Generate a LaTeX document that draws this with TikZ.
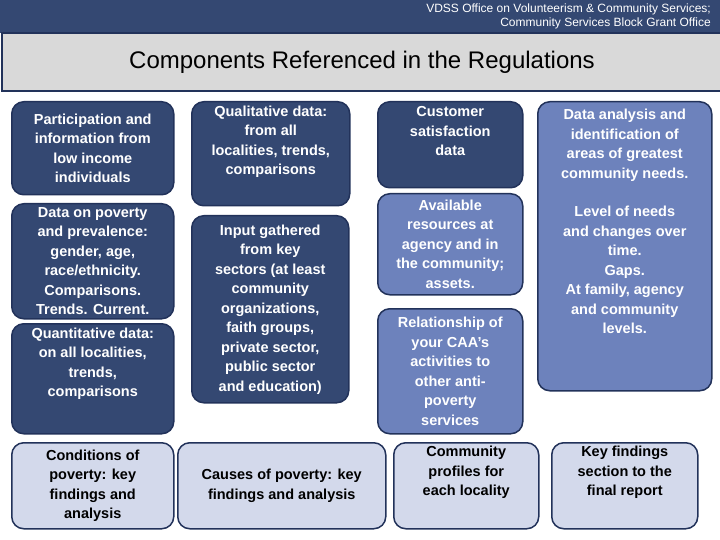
\documentclass[tikz,border=0pt]{standalone}
\usepackage{fontspec}
\setmainfont{Liberation Sans}
\definecolor{dk}{HTML}{344872}
\definecolor{md}{HTML}{6D82BC}
\definecolor{lt}{HTML}{D3D9EB}
\definecolor{bd}{HTML}{22325A}
\begin{document}
\begin{tikzpicture}[x=1pt,y=-1pt,
 bx/.style={draw=bd,line width=1.5pt,rounded corners=12pt,align=center,font=\fontsize{14.5}{19.5}\selectfont\bfseries,inner sep=2pt},
 dkb/.style={bx,fill=dk,text=white},
 mdb/.style={bx,fill=md,text=white},
 ltb/.style={bx,fill=lt,text=black}]
\useasboundingbox (0,0) rectangle (720,540);
\fill[dk] (0,0) rectangle (720,33);
\node[anchor=north east,align=right,text=white,font=\fontsize{12}{14}\selectfont,inner sep=0pt] (hd) at (711,4) {VDSS Office on Volunteerism \& Community Services;\\Community Services Block Grant Office};
\node[draw=bd,line width=2pt,fill=black!15,minimum width=720pt,minimum height=58pt,font=\fontsize{24}{28}\selectfont,anchor=north west] (tt) at (1,32) {Components Referenced in the Regulations};
\newcommand\bxx[7]{\node[#1,minimum width=#4pt-#2pt,minimum height=#5pt-#3pt,anchor=north west] (#6) at (#2,#3) {#7};}
\bxx{dkb}{11}{101}{173}{194}{a1}{Participation and\\information from\\low income\\individuals}
\bxx{dkb}{11}{203}{173}{318}{a2}{Data on poverty\\and prevalence:\\gender, age,\\race/ethnicity.\\Comparisons.\\Trends. Current.}
\bxx{dkb}{11}{323}{173}{433}{a3}{Quantitative data:\\on all localities,\\trends,\\comparisons\\[14pt]}
\bxx{ltb}{11}{442}{173}{528}{a4}{Conditions of\\poverty: key\\findings and\\analysis}
\bxx{dkb}{191}{101}{349}{205}{b1}{Qualitative data:\\from all\\localities, trends,\\comparisons\\[8pt]}
\bxx{dkb}{191}{215}{348}{402}{b2}{Input gathered\\from key\\sectors (at least\\community\\organizations,\\faith groups,\\private sector,\\public sector\\and education)}
\bxx{ltb}{177}{442}{385}{528}{b3}{Causes of poverty: key\\findings and analysis}
\bxx{dkb}{377}{101}{522}{187}{c1}{Customer\\satisfaction\\data\\[8pt]}
\bxx{mdb}{377}{193}{522}{294}{c2}{Available\\resources at\\agency and in\\the community;\\assets.}
\bxx{mdb}{377}{308}{522}{433}{c3}{Relationship of\\your CAA’s\\activities to\\other anti-\\poverty\\services}
\bxx{ltb}{393}{442}{538}{528}{c4}{Community\\profiles for\\each locality\\[10pt]}
\bxx{mdb}{537}{101}{711}{390}{d1}{Data analysis and\\identification of\\areas of greatest\\community needs.\\[19pt]Level of needs\\and changes over\\time.\\Gaps.\\At family, agency\\and community\\levels.\\[30pt]}
\bxx{ltb}{551}{442}{697}{528}{d2}{Key findings\\section to the\\final report\\[10pt]}
\end{tikzpicture}
\end{document}
